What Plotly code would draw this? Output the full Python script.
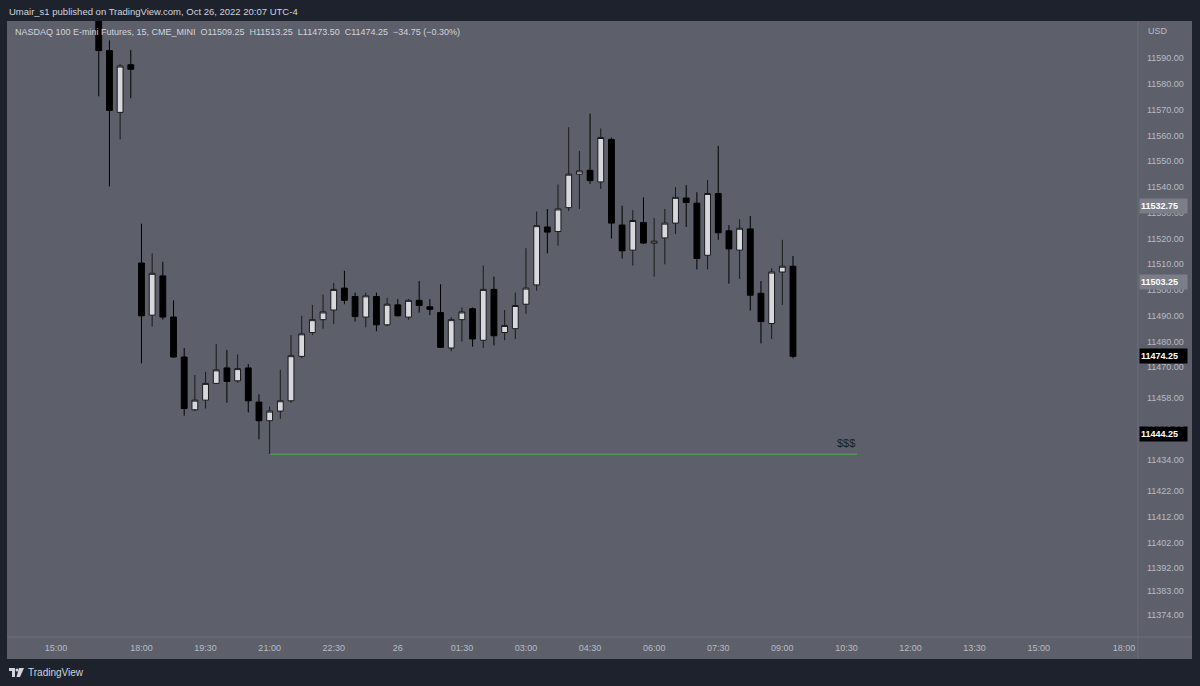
import plotly.graph_objects as go

# ---------------- data ----------------
bar_pos = list(range(4, 70))   # 15-min bar index, 0 = Oct 25 15:00 (session gap 17:00-18:00 removed)

opens = [11610, 11593, 11569, 11587.5, 11510.5, 11490.25, 11505.5, 11489.5, 11474, 11453.5,
         11457.25, 11463.75, 11469.75, 11464.75, 11469.75, 11456.5, 11449.25, 11453, 11457, 11474.25,
         11483.5, 11488.5, 11492.25, 11500.75, 11497.5, 11489.5, 11497.5, 11486.5, 11494.25, 11489.5,
         11496, 11493.5, 11491.25, 11477.5, 11488.5, 11492.75, 11480.5, 11500.25, 11483.5, 11485,
         11494.5, 11502, 11524.5, 11522.75, 11532, 11545, 11546.5, 11542, 11558.5, 11525.25,
         11515.5, 11526.25, 11518.25, 11520.25, 11526, 11535.75, 11533.75, 11513.5, 11537.5, 11523,
         11515.5, 11523.75, 11498.75, 11487, 11507, 11509.25]
highs = [11616, 11597, 11587.75, 11593.25, 11525.75, 11514.25, 11511, 11496, 11477.5, 11467,
         11468.25, 11479, 11476.75, 11475, 11471.25, 11459.5, 11454.75, 11469, 11482.5, 11490,
         11494.25, 11498.25, 11502.75, 11507.5, 11499, 11499, 11499, 11497, 11496.5, 11496.5,
         11503.5, 11496.5, 11502.25, 11489.5, 11493.25, 11493.25, 11509.5, 11505.25, 11492.25, 11499,
         11516.25, 11530.5, 11531.5, 11541, 11563.25, 11554, 11568.5, 11562.75, 11559.25, 11532.75,
         11531, 11536, 11528, 11531.5, 11540, 11540.75, 11538, 11542.75, 11556, 11525.25,
         11527.5, 11528.75, 11503.5, 11508.5, 11519.5, 11513.25]
lows = [11575.25, 11540.25, 11558.5, 11574.5, 11471.5, 11485.75, 11488.5, 11473.75, 11451.25, 11453,
        11454, 11463.5, 11456.25, 11464, 11452.5, 11442, 11436.25, 11450, 11456.25, 11473.5,
        11482.5, 11485, 11486.75, 11494.5, 11487.75, 11485.5, 11484, 11486, 11489.75, 11488.5,
        11491.25, 11490.25, 11477.5, 11476.25, 11480, 11478, 11477.5, 11478.5, 11480.5, 11481,
        11490.75, 11499.75, 11514.25, 11517.25, 11530.75, 11531.5, 11541.25, 11539.25, 11520, 11512.25,
        11509.5, 11518, 11505.25, 11510, 11521.75, 11524.5, 11508, 11508, 11519.5, 11502.5,
        11504.25, 11492, 11479.25, 11481, 11494.25, 11473.5]
closes = [11593, 11569.75, 11587, 11585.75, 11490, 11506.5, 11489.5, 11474, 11454, 11457.25,
          11463.75, 11469, 11464.5, 11469.5, 11457, 11449.25, 11453, 11457, 11474.5, 11483,
          11488.5, 11491.5, 11500.25, 11496, 11489.75, 11497.75, 11486.5, 11494.5, 11490, 11496,
          11494, 11492.5, 11477.75, 11488.5, 11491.5, 11481, 11500.25, 11482.25, 11486.25, 11494,
          11500.75, 11525, 11522.5, 11531.5, 11545, 11546.25, 11542.5, 11559.25, 11526, 11515.25,
          11527, 11518.25, 11519, 11526, 11536, 11534, 11512.25, 11537.5, 11522.25, 11516,
          11524, 11498, 11487.75, 11507, 11509.25, 11474.25]

# liquidity line ("$$$") at the 21:00 low
liq_start, liq_end = 20, 75
liq_price = 11436.25
liq_text = "$$$"

# axis ticks
x_tickvals = [0, 8, 14, 20, 26, 32, 38, 44, 50, 56, 62, 68, 74, 80, 86, 92, 100]
x_ticktext = ["15:00", "18:00", "19:30", "21:00", "22:30", "26", "01:30", "03:00", "04:30",
              "06:00", "07:30", "09:00", "10:30", "12:00", "13:30", "15:00", "18:00"]
y_tickvals = [11590, 11580, 11570, 11560, 11550, 11540, 11530, 11520, 11510, 11500, 11490,
              11480, 11470, 11458, 11446, 11434, 11422, 11412, 11402, 11392, 11383, 11374]

# price-scale labels
price_labels = [11532.75, 11503.25, 11474.25, 11444.25]
price_label_bg = ["#7b7e88", "#7b7e88", "#000000", "#000000"]

header = "Umair_s1 published on TradingView.com, Oct 26, 2022 20:07 UTC-4"
legend_line = ("NASDAQ 100 E-mini Futures, 15, CME_MINI&nbsp; O11509.25&nbsp; H11513.25&nbsp; "
               "L11473.50&nbsp; C11474.25&nbsp; \u221234.75 (\u22120.30%)")

# ---------------- style ----------------
W, H = 1200, 686
L_PX, R_PX, T_PX, B_PX = 7, 1138, 21, 637
FRAME_R, FRAME_B = 1192, 659
PANE = "#5d606b"
OUTER = "#1e222d"
SEP = "#6c6f7a"
TXT = "#b8bbc3"
FONT = "Liberation Sans, Arial, sans-serif"


def px(x):
    return (x - L_PX) / (R_PX - L_PX)


def py(y):
    return (B_PX - y) / (B_PX - T_PX)


fig = go.Figure()

fig.add_trace(go.Candlestick(
    x=bar_pos, open=opens, high=highs, low=lows, close=closes,
    increasing=dict(fillcolor="#d6d8de", line=dict(color="#1a1a1a", width=1)),
    decreasing=dict(fillcolor="#000000", line=dict(color="#000000", width=1)),
    whiskerwidth=0, showlegend=False, hoverinfo="skip",
))

fig.add_trace(go.Scatter(
    x=[liq_start, liq_end], y=[liq_price, liq_price], mode="lines",
    line=dict(color="#4caf50", width=1), showlegend=False, hoverinfo="skip",
))

shapes = [
    dict(type="rect", xref="paper", yref="paper", x0=0, x1=px(FRAME_R), y0=py(FRAME_B), y1=1,
         fillcolor=PANE, line=dict(width=0), layer="below"),
    dict(type="line", xref="paper", yref="paper", x0=1, x1=1, y0=py(FRAME_B), y1=1,
         line=dict(color=SEP, width=1), layer="above"),
    dict(type="line", xref="paper", yref="paper", x0=0, x1=px(FRAME_R), y0=0, y1=0,
         line=dict(color=SEP, width=1), layer="above"),
]

# TradingView logo glyph (approximate)
logo_col = "#d1d4dc"
shapes += [
    dict(type="rect", xref="paper", yref="paper", x0=px(9), x1=px(15), y0=py(671), y1=py(668),
         fillcolor=logo_col, line=dict(width=0)),
    dict(type="rect", xref="paper", yref="paper", x0=px(12), x1=px(15), y0=py(677), y1=py(668),
         fillcolor=logo_col, line=dict(width=0)),
    dict(type="circle", xref="paper", yref="paper", x0=px(15.5), x1=px(18.5), y0=py(671.5), y1=py(668.5),
         fillcolor=logo_col, line=dict(width=0)),
    dict(type="path", xref="paper", yref="paper",
         path=f"M {px(19)} {py(668)} L {px(24)} {py(668)} L {px(20)} {py(677)} L {px(16.5)} {py(677)} Z",
         fillcolor=logo_col, line=dict(width=0)),
]

annotations = [
    dict(xref="paper", yref="paper", x=px(7), y=py(11), xanchor="left", yanchor="middle",
         text=header, showarrow=False, font=dict(family=FONT, size=9.5, color="#d1d4dc")),
    dict(xref="paper", yref="paper", x=px(13), y=py(32), xanchor="left", yanchor="middle",
         text=legend_line, showarrow=False, font=dict(family=FONT, size=9, color="#d1d4dc")),
    dict(xref="paper", yref="paper", x=px(1146), y=py(31), xanchor="left", yanchor="middle",
         text="USD", showarrow=False, font=dict(family=FONT, size=9, color=TXT)),
    dict(xref="paper", yref="paper", x=px(26), y=py(672.5), xanchor="left", yanchor="middle",
         text="TradingView", showarrow=False, font=dict(family=FONT, size=10, color="#d1d4dc")),
    dict(xref="x", yref="y", x=liq_end - 1, y=liq_price, xanchor="center", yanchor="bottom",
         yshift=3, text=liq_text, showarrow=False, font=dict(family=FONT, size=11, color="#202020")),
]
for p, bg in zip(price_labels, price_label_bg):
    annotations.append(dict(
        xref="paper", yref="y", x=1, y=p, xanchor="left", yanchor="middle",
        text=f"<b>{p:.2f}</b>", showarrow=False, bgcolor=bg, width=45, height=12,
        align="left", borderpad=1, xshift=1,
        font=dict(family=FONT, size=9, color="#ffffff"),
    ))

fig.update_layout(
    width=W, height=H,
    margin=dict(l=L_PX, r=W - R_PX, t=T_PX, b=H - B_PX, pad=0, autoexpand=False),
    paper_bgcolor=OUTER, plot_bgcolor=PANE,
    boxgap=0.22,
    shapes=shapes, annotations=annotations,
    xaxis=dict(range=[-4.59, 101.3], showgrid=False, zeroline=False, showline=False,
               rangeslider=dict(visible=False), tickmode="array", automargin=False,
               tickvals=x_tickvals, ticktext=x_ticktext, ticks="",
               tickfont=dict(family=FONT, size=9, color=TXT), ticklabelstandoff=4),
    yaxis=dict(range=[11365.26, 11604.49], side="right", showgrid=False, zeroline=False,
               showline=False, tickmode="array", tickvals=y_tickvals, automargin=False,
               ticktext=[f"{v:.2f}" for v in y_tickvals], ticks="",
               tickfont=dict(family=FONT, size=9, color=TXT), ticklabelstandoff=8),
    font=dict(family=FONT),
)

fig.write_html(
    "out.html",
    config={"displayModeBar": False},
    post_script="document.body.style.margin='0';document.body.style.background='#1e222d';",
)
